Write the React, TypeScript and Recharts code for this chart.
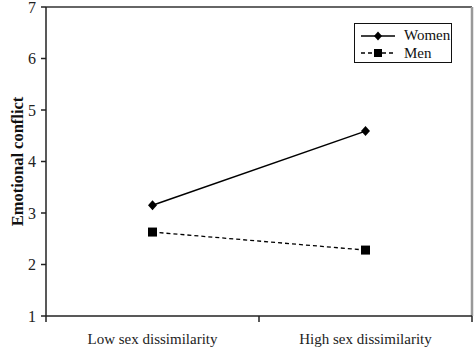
import { Line, LineChart, ReferenceLine, XAxis, YAxis } from "recharts";

const CATEGORIES = ["Low sex dissimilarity", "High sex dissimilarity"];
const WOMEN = [3.15, 4.59];
const MEN = [2.63, 2.28];
const Y_TICKS = [1, 2, 3, 4, 5, 6, 7];

// categories sit in the middle of each unit band: 0.5, 1.5
const data = CATEGORIES.map((c, i) => ({ x: i + 0.5, name: c, women: WOMEN[i], men: MEN[i] }));
const X_TICKS = [0, 0.5, 1, 1.5, 2];

const FONT = "Liberation Serif";

function XTick({ x, y, payload }: any) {
  const v = payload.value as number;
  if (Number.isInteger(v)) {
    return <line x1={x} x2={x} y1={y} y2={y + 6} stroke="#222" strokeWidth={1.5} />;
  }
  return (
    <text x={x} y={y + 28} textAnchor="middle" fontSize={15} fill="#222" fontFamily={FONT}>
      {CATEGORIES[Math.floor(v)]}
    </text>
  );
}

function Diamond({ cx, cy }: any) {
  return <polygon points={`${cx},${cy - 5} ${cx + 4.5},${cy} ${cx},${cy + 5} ${cx - 4.5},${cy}`} fill="#000" />;
}

function Square({ cx, cy }: any) {
  return <rect x={cx - 4.5} y={cy - 4.5} width={9} height={9} fill="#000" />;
}

function LegendBox() {
  return (
    <div
      style={{
        position: "absolute", left: 354, top: 23, width: 96, height: 38,
        border: "1px solid #111", background: "#fff", fontFamily: FONT, fontSize: 15, color: "#111",
      }}
    >
      <div style={{ display: "flex", alignItems: "center", height: 19, marginTop: 2 }}>
        <svg width={40} height={12} style={{ marginLeft: 4 }}>
          <line x1={2} x2={36} y1={6} y2={6} stroke="#000" strokeWidth={1.3} />
          <polygon points="19,1.5 23,6 19,10.5 15,6" fill="#000" />
        </svg>
        <span style={{ marginLeft: 5 }}>Women</span>
      </div>
      <div style={{ display: "flex", alignItems: "center", height: 16 }}>
        <svg width={40} height={12} style={{ marginLeft: 4 }}>
          <line x1={2} x2={36} y1={6} y2={6} stroke="#000" strokeWidth={1.3} strokeDasharray="4 3" />
          <rect x={15} y={2} width={8} height={8} fill="#000" />
        </svg>
        <span style={{ marginLeft: 5 }}>Men</span>
      </div>
    </div>
  );
}

export default function App() {
  return (
    <div style={{ position: "absolute", left: 0, top: 0, width: 474, height: 347, background: "#fff" }}>
      <LineChart width={474} height={347} data={data} margin={{ top: 7, right: 2, bottom: 0, left: 0 }}>
        <XAxis
          dataKey="x"
          type="number"
          domain={[0, 2]}
          ticks={X_TICKS}
          interval={0}
          tick={<XTick />}
          tickLine={false}
          tickSize={0}
          tickMargin={0}
          height={31}
          axisLine={{ stroke: "#222", strokeWidth: 1.5 }}
        />
        <YAxis
          domain={[1, 7]}
          ticks={Y_TICKS}
          interval={0}
          width={46}
          tickSize={5}
          tickMargin={5}
          axisLine={{ stroke: "#222", strokeWidth: 1.5 }}
          tickLine={{ stroke: "#222", strokeWidth: 1.5 }}
          tick={{ fill: "#222", fontSize: 16, fontFamily: FONT }}
          label={{
            value: "Emotional conflict",
            angle: -90,
            position: "insideLeft",
            offset: 0,
            dx: 17,
            style: { textAnchor: "middle", fontSize: 16.5, fontWeight: "bold", fontFamily: FONT, fill: "#111" },
          }}
        />
        <ReferenceLine y={7} stroke="#333" strokeWidth={1.5} />
        <ReferenceLine x={2} stroke="#999" strokeWidth={2.5} />
        <Line dataKey="women" stroke="#000" strokeWidth={1.5} dot={<Diamond />} isAnimationActive={false} />
        <Line dataKey="men" stroke="#000" strokeWidth={1.3} strokeDasharray="4 3" dot={<Square />} isAnimationActive={false} />
      </LineChart>
      <LegendBox />
    </div>
  );
}
